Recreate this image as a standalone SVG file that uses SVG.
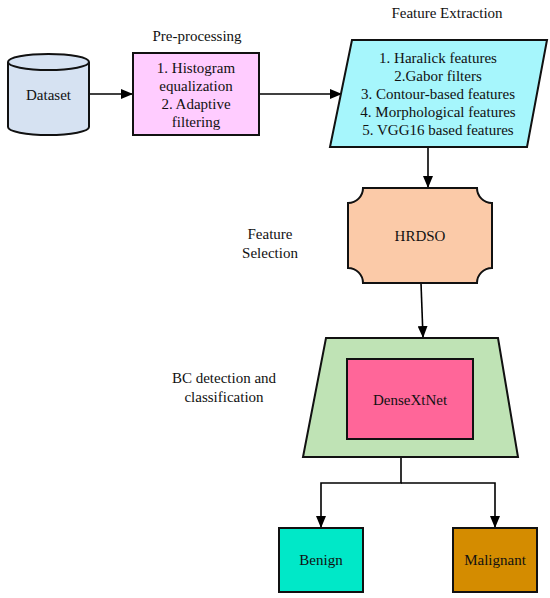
<svg xmlns="http://www.w3.org/2000/svg" width="550" height="598" viewBox="0 0 550 598" font-family="'Liberation Serif', 'Times New Roman', serif">
<defs>
<marker id="ah" markerWidth="12" markerHeight="10" refX="11" refY="5" orient="auto" markerUnits="userSpaceOnUse">
<path d="M0,0 L12,5 L0,10 Z" fill="#000"/>
</marker>
<style>
text{font-family:"Liberation Serif","Times New Roman",serif;font-size:15px;fill:#111;text-anchor:middle}
.s{stroke:#111;stroke-width:2}
.c{stroke:#000;stroke-width:1.6;fill:none}
</style>
</defs>
<rect width="550" height="598" fill="#fff"/>
<g id="connectors">
<line class="c" x1="89" y1="94" x2="132" y2="94" marker-end="url(#ah)"/>
<line class="c" x1="259" y1="94" x2="341" y2="94" marker-end="url(#ah)"/>
<line class="c" x1="428" y1="147" x2="428" y2="187" marker-end="url(#ah)"/>
<line class="c" x1="421" y1="283" x2="423" y2="337" marker-end="url(#ah)"/>
<polyline class="c" points="401,457 401,483 321,483 321,527" marker-end="url(#ah)"/>
<polyline class="c" points="401,483 495,483 495,527" marker-end="url(#ah)"/>
</g>
<g id="labels">
<text x="197" y="41">Pre-processing</text>
<text x="447" y="18">Feature Extraction</text>
<text x="270" y="239">Feature</text>
<text x="270" y="258">Selection</text>
<text x="224" y="383">BC detection and</text>
<text x="224" y="402">classification</text>
</g>
<g id="dataset">
<path class="s" d="M8,62 L8,127 A40.5,8 0 0 0 89,127 L89,62" fill="#d6e2f2"/>
<ellipse class="s" cx="48.5" cy="62" rx="40.5" ry="8" fill="#d6e2f2"/>
<text x="48.5" y="100">Dataset</text>
</g>
<g id="preprocessing">
<rect class="s" x="133" y="53" width="126" height="82" fill="#ffccff"/>
<text x="196" y="73">1. Histogram</text>
<text x="196" y="91">equalization</text>
<text x="196" y="109">2. Adaptive</text>
<text x="196" y="127">filtering</text>
</g>
<g id="feature-extraction">
<polygon class="s" points="352,40 547,40 527,147 330,147" fill="#a6f6fc"/>
<text x="438" y="63">1. Haralick features</text>
<text x="438" y="81">2.Gabor filters</text>
<text x="438" y="99">3. Contour-based features</text>
<text x="438" y="117">4. Morphological features</text>
<text x="438" y="135">5. VGG16 based features</text>
</g>
<g id="hrdso">
<path class="s" d="M363,188 L477,188 A15,15 0 0 0 492,203 L492,268 A15,15 0 0 0 477,283 L363,283 A15,15 0 0 0 348,268 L348,203 A15,15 0 0 0 363,188 Z" fill="#fbcaa8"/>
<text x="420" y="241">HRDSO</text>
</g>
<g id="bc-detection">
<polygon class="s" points="326,338 498,338 518,457 303,457" fill="#bfe3b5"/>
<rect class="s" x="347" y="359" width="126" height="80" fill="#ff6699"/>
<text x="410" y="405">DenseXtNet</text>
</g>
<g id="benign">
<rect class="s" x="279" y="528" width="84" height="64" fill="#00e8c8"/>
<text x="321" y="565">Benign</text>
</g>
<g id="malignant">
<rect class="s" x="453" y="528" width="84" height="64" fill="#d48c00"/>
<text x="495" y="565">Malignant</text>
</g>
</svg>
